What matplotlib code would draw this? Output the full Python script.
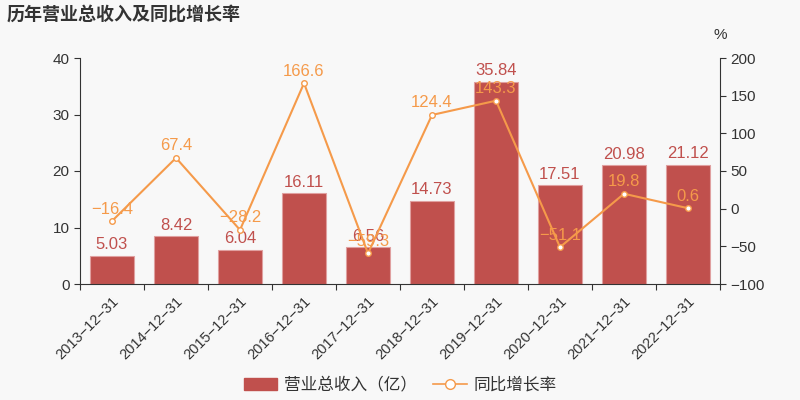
import matplotlib
matplotlib.use("Agg")
import matplotlib.pyplot as plt
import numpy as np
from matplotlib.patches import Patch, FancyBboxPatch
from matplotlib.lines import Line2D

plt.rcParams['font.family'] = ['Liberation Sans', 'Noto Sans CJK SC', 'DejaVu Sans']

categories = ["2013-12-31", "2014-12-31", "2015-12-31", "2016-12-31", "2017-12-31",
              "2018-12-31", "2019-12-31", "2020-12-31", "2021-12-31", "2022-12-31"]
revenue = [5.03, 8.42, 6.04, 16.11, 6.56, 14.73, 35.84, 17.51, 20.98, 21.12]
growth = [-16.4, 67.4, -28.2, 166.6, -59.3, 124.4, 143.3, -51.1, 19.8, 0.6]

bar_color = "#c0504d"
line_color = "#f59a4a"
bg = "#f8f8f8"
text_color = "#333333"

fig = plt.figure(figsize=(8, 4), dpi=100, facecolor=bg)
ax = fig.add_axes([0.1, 0.29, 0.8, 0.565])
ax.set_facecolor(bg)
x = np.arange(len(categories))
ax.bar(x, revenue, width=0.7, color=bar_color, edgecolor="#e0a0a0", linewidth=0.8, zorder=2)
ax.set_xlim(-0.5, len(categories) - 0.5)
ax.set_ylim(0, 40)
ax.set_yticks([0, 10, 20, 30, 40])
for s in ["top", "right"]:
    ax.spines[s].set_visible(False)
ax.spines["left"].set_color(text_color)
ax.spines["bottom"].set_color(text_color)
ax.tick_params(axis="y", colors=text_color, labelsize=11, length=4)
ax.tick_params(axis="x", colors=text_color, length=4)
ax.set_xticks(np.arange(len(categories) + 1) - 0.5, minor=False)
ax.set_xticklabels([])
ax.set_xticks(x, minor=True)
ax.set_xticklabels([c.replace("-", "\u2212") for c in categories], minor=True, rotation=45,
                   ha="right", rotation_mode="anchor", color=text_color, fontsize=10.5)
ax.tick_params(axis="x", which="minor", length=0, pad=7)
for xi, v in zip(x, revenue):
    ax.text(xi, v + 0.6, f"{v:.2f}", ha="center", va="bottom", color=bar_color, fontsize=12, zorder=5)

ax2 = ax.twinx()
ax2.set_ylim(-100, 200)
ticks2 = [-100, -50, 0, 50, 100, 150, 200]
ax2.set_yticks(ticks2)
ax2.set_yticklabels([("\u2212" + str(-t)) if t < 0 else str(t) for t in ticks2])
for s in ["top", "left", "bottom"]:
    ax2.spines[s].set_visible(False)
ax2.spines["right"].set_color(text_color)
ax2.tick_params(axis="y", colors=text_color, labelsize=11, length=4)
ax2.plot(x, growth, color=line_color, linewidth=1.5, marker="o", markersize=4,
         markerfacecolor="white", markeredgecolor=line_color, zorder=4)
for xi, v in zip(x, growth):
    lab = ("\u2212" + f"{-v:.1f}") if v < 0 else f"{v:.1f}"
    ax2.text(xi, v + 6, lab, ha="center", va="bottom", color=line_color, fontsize=12, zorder=6)
ax2.text(1.0, 1.07, "%", transform=ax2.transAxes, ha="center", va="bottom", color=text_color, fontsize=11)

fig.text(0.008, 0.965, "历年营业总收入及同比增长率", fontsize=13, fontweight="bold", color=text_color,
         va="center", family=['Noto Sans CJK SC'])

handles = [Patch(facecolor=bar_color, edgecolor=bar_color),
           Line2D([0], [0], color=line_color, marker="o", markerfacecolor="white", markersize=7, linewidth=1.2)]
fig.legend(handles, ["营业总收入（亿）", "同比增长率"], loc="center", bbox_to_anchor=(0.5, 0.037),
           ncol=2, frameon=False, fontsize=12, labelcolor=text_color, handlelength=2.0, columnspacing=1.0,
           handletextpad=0.4, prop={'family': ['Noto Sans CJK SC'], 'size': 12})

fig.savefig("out.png", dpi=100, facecolor=bg)
